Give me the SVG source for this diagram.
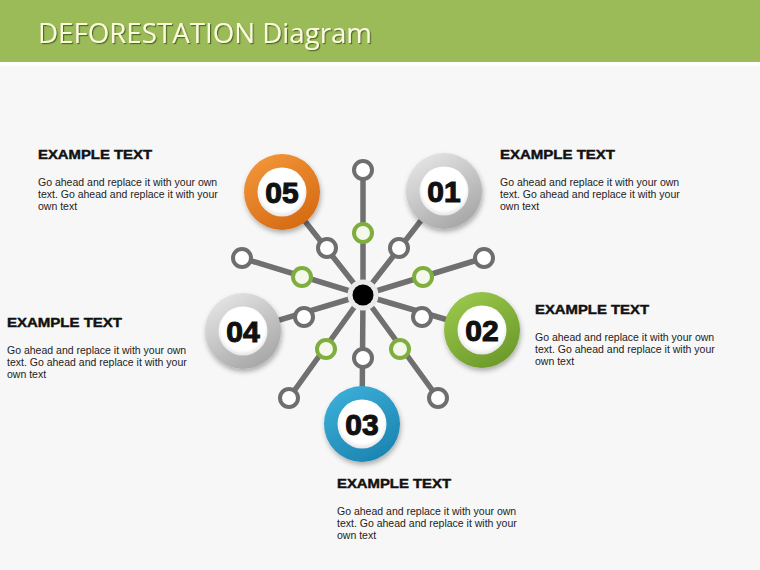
<svg xmlns="http://www.w3.org/2000/svg" width="760" height="570" viewBox="0 0 760 570">
<defs>
<linearGradient id="gGrey" x1="0" y1="0" x2="0.6" y2="1"><stop offset="0" stop-color="#ececec"/><stop offset="1" stop-color="#a9a9a9"/></linearGradient>
<linearGradient id="gOrange" x1="0" y1="0" x2="0.6" y2="1"><stop offset="0" stop-color="#f59a3c"/><stop offset="1" stop-color="#d76c15"/></linearGradient>
<linearGradient id="gGreen" x1="0" y1="0" x2="0.6" y2="1"><stop offset="0" stop-color="#9fcc4e"/><stop offset="1" stop-color="#6e9c2c"/></linearGradient>
<linearGradient id="gBlue" x1="0" y1="0" x2="0.6" y2="1"><stop offset="0" stop-color="#3fb3dc"/><stop offset="1" stop-color="#1d86b3"/></linearGradient>
<radialGradient id="gInner" cx="0.5" cy="0.45" r="0.55"><stop offset="0.8" stop-color="#ffffff"/><stop offset="1" stop-color="#e4e4e4"/></radialGradient>
<filter id="shadow" x="-30%" y="-30%" width="160%" height="170%"><feDropShadow dx="1" dy="3" stdDeviation="2.5" flood-color="#000" flood-opacity="0.3"/></filter>
<filter id="tshadow" x="-5%" y="-20%" width="110%" height="150%"><feDropShadow dx="1.2" dy="1.2" stdDeviation="0.6" flood-color="#3d5a1a" flood-opacity="0.8"/></filter>
</defs>
<style>
.spoke{stroke:#707070;stroke-width:5.5;stroke-linecap:round;fill:none}
.gc{fill:#ffffff;stroke:#6e6e6e;stroke-width:4}
.grc{fill:#f3f8ea;stroke:#7fae3f;stroke-width:4}
.inner{fill:url(#gInner)}
.num{font-family:"Liberation Sans",Arial,sans-serif;font-weight:bold;font-size:30px;fill:#111;stroke:#111;stroke-width:1.1;text-anchor:middle}
.hd{font-family:"Liberation Sans",Arial,sans-serif;font-weight:bold;font-size:13.5px;fill:#111;stroke:#111;stroke-width:0.45}
.bd{font-family:"Liberation Sans",Arial,sans-serif;font-size:10.5px;fill:#222}
</style>
<rect x="0" y="0" width="760" height="570" fill="#f7f7f7"/>
<rect x="0" y="0" width="760" height="62" fill="#9bbb59"/>
<rect x="0" y="62" width="760" height="4" fill="#ffffff"/>
<text x="38" y="43" font-family="'Open Sans','Liberation Sans',sans-serif" font-size="27" fill="#fbfbdc" filter="url(#tshadow)" textLength="334" lengthAdjust="spacingAndGlyphs">DEFORESTATION Diagram</text>

<g id="connectors">
<line class="spoke" x1="363" y1="295" x2="363" y2="170"/>
<line class="spoke" x1="363" y1="295" x2="444" y2="191"/>
<line class="spoke" x1="363" y1="295" x2="484" y2="258"/>
<line class="spoke" x1="363" y1="295" x2="482" y2="330"/>
<line class="spoke" x1="363" y1="295" x2="438" y2="398"/>
<line class="spoke" x1="363" y1="295" x2="362" y2="424"/>
<line class="spoke" x1="363" y1="295" x2="289" y2="398"/>
<line class="spoke" x1="363" y1="295" x2="243" y2="331"/>
<line class="spoke" x1="363" y1="295" x2="242" y2="258"/>
<line class="spoke" x1="363" y1="295" x2="282" y2="192"/>
</g>

<g id="small-circles">
<circle class="gc" cx="363" cy="170" r="9"/>
<circle class="gc" cx="484" cy="258" r="9"/>
<circle class="gc" cx="438" cy="398" r="9"/>
<circle class="gc" cx="289" cy="398" r="9"/>
<circle class="gc" cx="242" cy="258" r="9"/>
<circle class="grc" cx="363" cy="233" r="9"/>
<circle class="grc" cx="423" cy="277" r="9"/>
<circle class="grc" cx="400" cy="349" r="9"/>
<circle class="grc" cx="326" cy="349" r="9"/>
<circle class="grc" cx="302" cy="277" r="9"/>
<circle class="gc" cx="399" cy="248" r="9"/>
<circle class="gc" cx="422" cy="317" r="9"/>
<circle class="gc" cx="363" cy="358" r="9"/>
<circle class="gc" cx="304" cy="317" r="9"/>
<circle class="gc" cx="327" cy="248" r="9"/>
</g>

<g id="hub">
<circle cx="363" cy="295" r="15.5" fill="#e9e9e9"/>
<circle cx="363" cy="295" r="10.5" fill="#000"/>
</g>

<g id="node-01">
<circle cx="444" cy="191" r="38" fill="url(#gGrey)" filter="url(#shadow)"/>
<circle class="inner" cx="444" cy="191" r="24.5"/>
<text class="num" x="444" y="202">01</text>
</g>
<g id="node-02">
<circle cx="482" cy="330" r="38" fill="url(#gGreen)" filter="url(#shadow)"/>
<circle class="inner" cx="482" cy="330" r="24.5"/>
<text class="num" x="482" y="341">02</text>
</g>
<g id="node-03">
<circle cx="362" cy="424" r="38" fill="url(#gBlue)" filter="url(#shadow)"/>
<circle class="inner" cx="362" cy="424" r="24.5"/>
<text class="num" x="362" y="435">03</text>
</g>
<g id="node-04">
<circle cx="243" cy="331" r="38" fill="url(#gGrey)" filter="url(#shadow)"/>
<circle class="inner" cx="243" cy="331" r="24.5"/>
<text class="num" x="243" y="342">04</text>
</g>
<g id="node-05">
<circle cx="282" cy="192" r="38" fill="url(#gOrange)" filter="url(#shadow)"/>
<circle class="inner" cx="282" cy="192" r="24.5"/>
<text class="num" x="282" y="203">05</text>
</g>

<g id="text-05">
<text class="hd" x="38" y="159" textLength="114" lengthAdjust="spacingAndGlyphs">EXAMPLE TEXT</text>
<text class="bd" x="38" y="186">Go ahead and replace it with your own</text>
<text class="bd" x="38" y="198">text. Go ahead and replace it with your</text>
<text class="bd" x="38" y="210">own text</text>
</g>
<g id="text-01">
<text class="hd" x="500" y="159" textLength="115" lengthAdjust="spacingAndGlyphs">EXAMPLE TEXT</text>
<text class="bd" x="500" y="186">Go ahead and replace it with your own</text>
<text class="bd" x="500" y="198">text. Go ahead and replace it with your</text>
<text class="bd" x="500" y="210">own text</text>
</g>
<g id="text-04">
<text class="hd" x="7" y="327" textLength="115" lengthAdjust="spacingAndGlyphs">EXAMPLE TEXT</text>
<text class="bd" x="7" y="354">Go ahead and replace it with your own</text>
<text class="bd" x="7" y="366">text. Go ahead and replace it with your</text>
<text class="bd" x="7" y="378">own text</text>
</g>
<g id="text-02">
<text class="hd" x="535" y="314" textLength="114" lengthAdjust="spacingAndGlyphs">EXAMPLE TEXT</text>
<text class="bd" x="535" y="341">Go ahead and replace it with your own</text>
<text class="bd" x="535" y="353">text. Go ahead and replace it with your</text>
<text class="bd" x="535" y="365">own text</text>
</g>
<g id="text-03">
<text class="hd" x="337" y="488" textLength="114" lengthAdjust="spacingAndGlyphs">EXAMPLE TEXT</text>
<text class="bd" x="337" y="515">Go ahead and replace it with your own</text>
<text class="bd" x="337" y="527">text. Go ahead and replace it with your</text>
<text class="bd" x="337" y="539">own text</text>
</g>
</svg>
